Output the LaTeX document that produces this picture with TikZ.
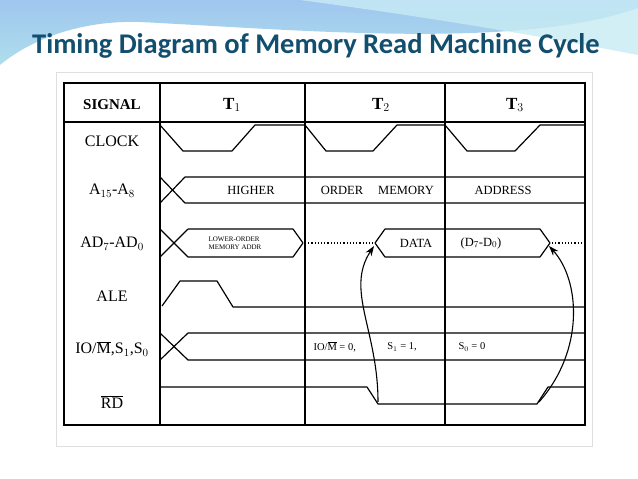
\documentclass[tikz,border=0pt]{standalone}
\usepackage{fontspec}
\setmainfont{Liberation Serif}
\newfontfamily\ttl{Carlito}
\usetikzlibrary{arrows.meta}
\definecolor{ttlc}{RGB}{18,78,110}
\definecolor{sky}{RGB}{120,200,222}
\definecolor{skyl}{RGB}{200,236,244}
\begin{document}
\begin{tikzpicture}[x=1pt,y=-1pt,
  sig/.style={line width=1.2pt,line join=round},
  lbl/.style={font=\fontsize{16}{16}\selectfont},
  small/.style={font=\fontsize{12.5}{12.5}\selectfont},
  tiny/.style={font=\fontsize{7}{7.5}\selectfont,align=left}]
\useasboundingbox (0,0) rectangle (638,479);
\fill[white] (0,0) rectangle (638,479);
% swoosh
\shade[top color=sky!80!blue!60, bottom color=sky!60] (0,0) -- (638,0) -- (638,8) .. controls (520,50) and (300,30) .. (140,22) .. controls (80,20) and (30,40) .. (0,65) -- cycle;
\fill[skyl,opacity=0.8] (300,0) .. controls (450,20) and (560,40) .. (638,55) -- (638,0) -- cycle;
\fill[white,opacity=0.7] (0,65) .. controls (60,30) and (200,25) .. (400,40) .. controls (250,38) and (100,45) .. (0,80) -- cycle;
\node[font=\ttl\bfseries\fontsize{28.5}{28.5}\selectfont,text=ttlc] (title) at (316,46) {Timing Diagram of Memory Read Machine Cycle};
\draw[gray!25] (56,72) rectangle (592,446);
% table
\draw[line width=1.4pt] (64,83) rectangle (585,425);
\draw[line width=1.2pt] (64,122) -- (585,122);
\foreach \x in {160,305,445} \draw[line width=1.2pt] (\x,83) -- (\x,425);
\node[font=\bfseries\fontsize{15}{15}\selectfont] (hs) at (112,105) {SIGNAL};
\node[font=\bfseries\fontsize{17}{17}\selectfont] (h1) at (232,105) {T$_1$};
\node[font=\bfseries\fontsize{17}{17}\selectfont] (h2) at (381,105) {T$_2$};
\node[font=\bfseries\fontsize{17}{17}\selectfont] (h3) at (515,105) {T$_3$};
\node[lbl] (lc) at (112,141) {CLOCK};
\node[lbl] (la) at (112,191) {A$_{15}$-A$_8$};
\node[lbl] (lad) at (112,244) {AD$_7$-AD$_0$};
\node[lbl] (lale) at (112,296) {ALE};
\node[lbl] (lio) at (112,349) {IO/$\overline{\mathrm{M}}$,S$_1$,S$_0$};
\node[lbl] (lrd) at (112,402) {$\overline{\mathrm{RD}}$};
% clock
\draw[sig] (160,125) -- (183,151) -- (232,151) -- (255,125) -- (305,125) -- (326,151) -- (373,151) -- (397,125) -- (445,125) -- (467,151) -- (515,151) -- (540,125) -- (585,125);
% A15-A8
\draw[sig] (160,177) -- (185,203) -- (585,203);
\draw[sig] (160,203) -- (185,177) -- (585,177);
\node[small] (t1) at (251,190) {HIGHER};
\node[small] (t2) at (342,190) {ORDER};
\node[small] (t3) at (406,190) {MEMORY};
\node[small] (t4) at (503,190) {ADDRESS};
% AD7-AD0
\draw[sig] (160,229) -- (188,257) -- (293,257) -- (303,243) -- (293,229) -- (188,229);
\draw[sig] (160,257) -- (188,229);
\draw[sig,dotted] (305,243) -- (375,243);
\draw[sig] (375,243) -- (385,229) -- (540,229) -- (550,243) -- (540,257) -- (385,257) -- cycle;
\draw[sig,dotted] (552,243) -- (585,243);
\node[tiny] (lo) at (235,243) {LOWER-ORDER\\MEMORY ADDR};
\node[small] (d1) at (416,243) {DATA};
\node[small] (d2) at (481,243) {(D$_7$-D$_0$)};
% ALE
\draw[sig] (162,306) -- (180,281) -- (217,281) -- (233,307) -- (585,307);
% IO/M
\draw[sig] (160,333) -- (188,360) -- (585,360);
\draw[sig] (160,360) -- (188,333) -- (585,333);
\node[font=\fontsize{10.5}{10.5}\selectfont,anchor=west] (s1) at (310,347) {IO/$\overline{\mathrm{M}}$ = 0,};
\node[font=\fontsize{10.5}{10.5}\selectfont] (s2) at (402,347) {S$_1$ = 1,};
\node[font=\fontsize{10.5}{10.5}\selectfont,anchor=west] (s3) at (455,347) {S$_0$ = 0};
% RD
\draw[sig] (160,387) -- (367,387) -- (378,404) -- (537,404) -- (548,387) -- (585,387);
% arrows
\coordinate (a1s) at (378,402);
\coordinate (a1e) at (374,246);
\coordinate (a2s) at (539,402);
\coordinate (a2e) at (549,246);
\draw[line width=1.1pt,-{Stealth[length=10pt,width=7pt]}] (a1s) .. controls (378,330) and (345,290) .. (a1e);
\draw[line width=1.1pt,-{Stealth[length=10pt,width=7pt]}] (a2s) .. controls (585,350) and (580,280) .. (a2e);
\end{tikzpicture}
\end{document}
